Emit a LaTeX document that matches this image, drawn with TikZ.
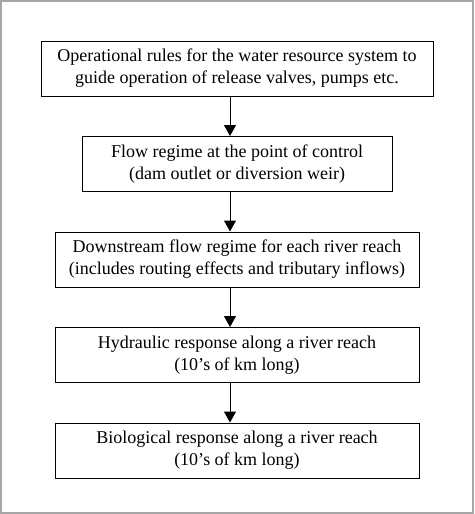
\documentclass[tikz,border=0pt]{standalone}
\usepackage{fontspec}
\setmainfont{Liberation Serif}
\usetikzlibrary{shapes,arrows.meta,positioning}

\begin{document}
\begin{tikzpicture}[
    x=1pt, y=1pt,
    node distance=39.5pt,
    box/.style={rectangle, draw, line width=1pt, align=center, minimum height=55pt, inner sep=2pt, font=\fontsize{18}{22}\selectfont},
    arrow/.style={-{Triangle[width=12pt,length=11pt]}, line width=1pt}
]

% Frame
\useasboundingbox (0,0) rectangle (474,-514);
\draw[gray!70, line width=2pt] (1,-1) rectangle (473,-513);

% Steps
\node[box, minimum width=392pt] (rules) at (237,-68.5) {Operational rules for the water resource system to\\guide operation of release valves, pumps etc.};
\node[box, minimum width=310pt] (control) [below=of rules] {Flow regime at the point of control\\(dam outlet or diversion weir)};
\node[box, minimum width=364pt] (reach) [below=of control] {Downstream flow regime for each river reach\\(includes routing effects and tributary inflows)};
\node[box, minimum width=364pt] (hydro) [below=of reach] {Hydraulic response along a river reach\\(10’s of km long)};
\node[box, minimum width=364pt] (bio) [below=of hydro] {Biological response along a river reach\\(10’s of km long)};

% Arrows
\foreach \i/\j in {rules/control, control/reach, reach/hydro, hydro/bio} {
    \draw[arrow] ([xshift=-7pt]\i.south) -- ([xshift=-7pt]\j.north);
}

\end{tikzpicture}
\end{document}
